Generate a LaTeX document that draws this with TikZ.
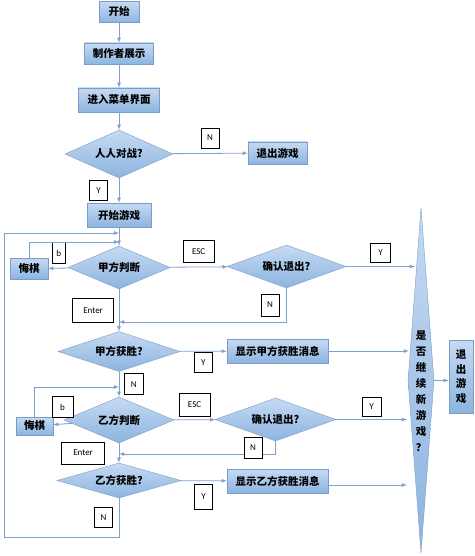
\documentclass[tikz,border=0pt]{standalone}
\usepackage{fontspec}
\newfontfamily\cjk{Noto Sans CJK SC}
\newfontfamily\lblfont{Carlito}
\usetikzlibrary{shapes.geometric}
\definecolor{boxtop}{RGB}{198,218,242}
\definecolor{boxbot}{RGB}{140,180,224}
\definecolor{boxline}{RGB}{122,156,200}
\definecolor{flowline}{RGB}{128,160,204}

\begin{document}
\begin{tikzpicture}[x=1pt,y=-1pt,>=latex]
\tikzstyle{proc}=[draw=boxline,top color=boxtop,bottom color=boxbot,inner sep=1pt,font=\cjk\bfseries\fontsize{10.5}{12}\selectfont]
\tikzstyle{test}=[proc,diamond,aspect=2.5]
\tikzstyle{lbl}=[draw=black,fill=white,font=\lblfont\fontsize{9}{10}\selectfont,minimum width=18pt,minimum height=20pt,inner sep=2pt]
\tikzstyle{flow}=[draw=flowline,line width=0.8pt,->]
\useasboundingbox (0,0) rectangle (474,556);
% main column
\node [proc,minimum width=40pt,minimum height=21pt] (start) at (119,12) {开始};
\node [proc,minimum width=69pt,minimum height=21pt] (maker) at (119,53.5) {制作者展示};
\node [proc,minimum width=81pt,minimum height=24pt] (menu) at (119,100) {进入菜单界面};
\node [test,minimum width=108pt,minimum height=48pt] (pvp) at (119,154) {人人对战?};
\node [proc,minimum width=59pt,minimum height=22pt] (quit) at (277.5,153) {退出游戏};
\node [proc,minimum width=64pt,minimum height=24pt] (play) at (119,215) {开始游戏};
% player A
\node [test,minimum width=102pt,minimum height=43pt] (judgeA) at (119,267.5) {甲方判断};
\node [proc,minimum width=38pt,minimum height=21pt] (undoA) at (29,268.5) {悔棋};
\node [test,minimum width=119pt,minimum height=43pt] (confA) at (286.5,266.5) {确认退出?};
\node [test,minimum width=122pt,minimum height=40pt] (winA) at (119,351.5) {甲方获胜?};
\node [proc,minimum width=101pt,minimum height=24pt] (msgA) at (277.5,351) {显示甲方获胜消息};
% player B
\node [test,minimum width=110pt,minimum height=46pt] (judgeB) at (119,420) {乙方判断};
\node [proc,minimum width=37pt,minimum height=18pt] (undoB) at (34.5,426) {悔棋};
\node [test,minimum width=121pt,minimum height=43pt] (confB) at (275.5,419.5) {确认退出?};
\node [test,minimum width=124pt,minimum height=35pt] (winB) at (119,480.5) {乙方获胜?};
\node [proc,minimum width=101pt,minimum height=24pt] (msgB) at (277.5,481) {显示乙方获胜消息};
% right side
\node [proc,diamond,aspect=0.075,minimum width=26pt,minimum height=345pt,
  label={[name=againtxt,yshift=-11pt,align=center,font=\cjk\bfseries\fontsize{10.5}{16}\selectfont]center:是\\否\\继\\续\\新\\游\\戏\\？}] (again) at (421,380.5) {};
\node [proc,minimum width=24pt,minimum height=73pt,align=center,font=\cjk\bfseries\fontsize{10.5}{14.5}\selectfont] (exit) at (461,376.5) {退\\出\\游\\戏};
\coordinate (inA) at (415,266.5);
\coordinate (inMsgA) at (409,351);
\coordinate (inB) at (407,419.5);
\coordinate (inMsgB) at (407,485);
\coordinate (joinTop) at (119,233);
\coordinate (joinA) at (119,242);
\coordinate (backA) at (119,322);
\coordinate (joinB) at (119,387);
\coordinate (backB) at (119,454);
\coordinate (loopEnd) at (4,537);
\path[every edge/.style={flow}]
    (start) edge (maker)
    (maker) edge (menu)
    (menu) edge (pvp)
    (pvp) edge node [lbl,above=5pt] {N} (quit)
    (pvp) edge node [lbl,left=11pt] {Y} (play)
    (play) edge (judgeA)
    (judgeA) edge node [lbl,above=4pt,minimum width=13pt,minimum height=21pt] {b} (undoA)
    (judgeA) edge node [lbl,above=4pt,minimum width=31pt,minimum height=22pt] {ESC} (confA)
    (confA.east) edge node [lbl,above=4pt,minimum width=20pt,minimum height=19pt] {Y} (inA)
    (judgeA) edge node [lbl,left=5pt,minimum width=41pt,minimum height=24pt] {Enter} (winA)
    (winA) edge node [lbl,below=1pt,minimum height=20pt] {Y} (msgA)
    (msgA) edge (inMsgA)
    (winA) edge node [lbl,right=5pt,minimum width=19pt,minimum height=21pt] {N} (judgeB)
    (judgeB) edge node [lbl,above=6pt,minimum width=21pt,minimum height=21pt] {b} (undoB)
    (judgeB) edge node [lbl,above=3pt,minimum width=31pt,minimum height=23pt] {ESC} (confB)
    (confB.east) edge node [lbl,above=3pt,minimum width=19pt,minimum height=19pt] {Y} (inB)
    (judgeB) edge node [lbl,left=14pt,minimum width=43pt,minimum height=22pt] {Enter} (winB)
    (winB) edge node [lbl,below=3pt,minimum height=25pt] {Y} (msgB)
    (msgB.east |- inMsgB) edge (inMsgB)
    (again) edge (again.east -| exit.west);
% loops back into the column
\draw[flow] (undoA.north) |- (joinA);
\draw[flow] (undoB.north) |- (joinB);
\draw[flow] (confA.south) -- node [lbl,left=7pt,minimum height=22pt] {N} (confA.south |- backA) -- (backA);
\draw[flow] (confB.south) -- node [lbl,left=13pt,minimum height=21pt] {N} (confB.south |- backB) -- (backB);
\draw[flow] (winB.south) -- node [lbl,left=6pt] {N} (winB.south |- loopEnd) -- (loopEnd) |- (joinTop);
\end{tikzpicture}
\end{document}
